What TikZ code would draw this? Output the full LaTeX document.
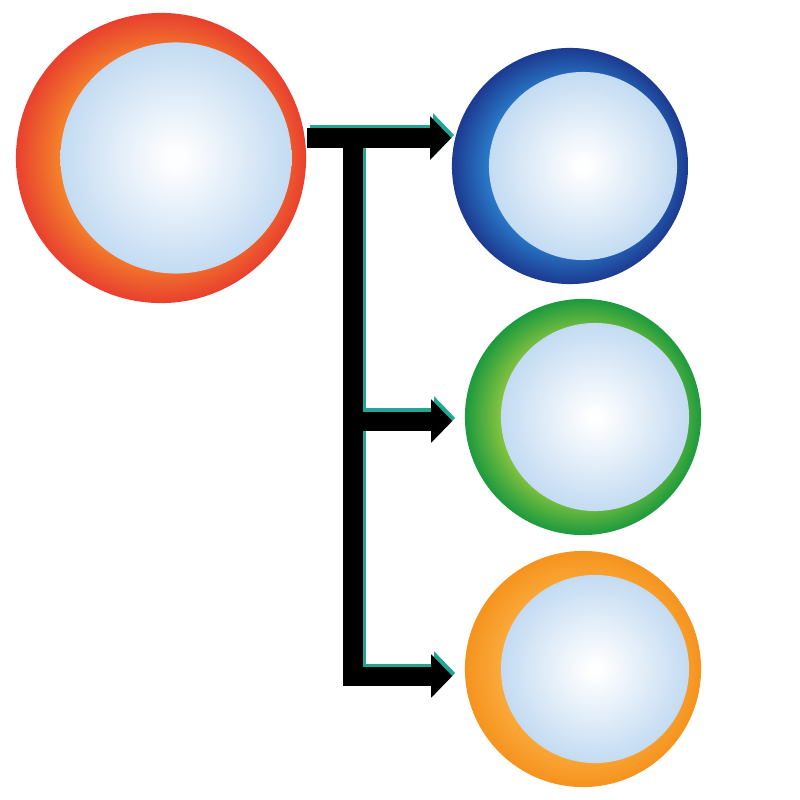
\documentclass[tikz,border=0pt]{standalone}
\usetikzlibrary{arrows.meta}

\definecolor{redout}{HTML}{E8402F}
\definecolor{redin}{HTML}{F5862A}
\definecolor{blueout}{HTML}{1C3A90}
\definecolor{bluein}{HTML}{2A7DCC}
\definecolor{greenout}{HTML}{1C9A3E}
\definecolor{greenin}{HTML}{8CC63F}
\definecolor{orangeout}{HTML}{F5931E}
\definecolor{orangein}{HTML}{FBAB3C}
\definecolor{discedge}{HTML}{C3DBF2}
\definecolor{shadowline}{HTML}{22A593}

% the path's bounding box is mapped to 25bp radius
\pgfdeclareradialshading{redring}{\pgfpoint{0bp}{0bp}}{color(0bp)=(redin);color(17bp)=(redin);color(25bp)=(redout);color(50bp)=(redout)}
\pgfdeclareradialshading{bluering}{\pgfpoint{0bp}{0bp}}{color(0bp)=(bluein);color(17bp)=(bluein);color(25bp)=(blueout);color(50bp)=(blueout)}
\pgfdeclareradialshading{greenring}{\pgfpoint{0bp}{0bp}}{color(0bp)=(greenin);color(17bp)=(greenin);color(25bp)=(greenout);color(50bp)=(greenout)}
\pgfdeclareradialshading{orangering}{\pgfpoint{0bp}{0bp}}{color(0bp)=(orangein);color(17bp)=(orangein);color(25bp)=(orangeout);color(50bp)=(orangeout)}
\pgfdeclareradialshading{glassdisc}{\pgfpoint{0bp}{0bp}}{color(0bp)=(white);color(2bp)=(white!97!discedge);color(25bp)=(discedge);color(50bp)=(discedge)}

\begin{document}
\begin{tikzpicture}[x=0.01cm, y=-0.01cm,
    ring/.style={circle, inner sep=0pt, draw=none, minimum size=2.36cm},
    disc/.style={circle, inner sep=0pt, draw=none, shading=glassdisc, minimum size=1.88cm},
    conn/.style={line width=0.19cm, -{Triangle[length=0.21cm, width=0.42cm]}}]

\useasboundingbox (0,0) rectangle (800,800);

% circles
\node[ring, shading=redring, minimum size=2.9cm] (main) at (161,158) {};
\node[disc, minimum size=2.31cm] (maindisc) at (176,158) {};

\node[ring, shading=bluering] (b1) at (570,166) {};
\node[disc] (b1disc) at (583,166) {};

\node[ring, shading=greenring] (b2) at (583,417) {};
\node[disc] (b2disc) at (595,417) {};

\node[ring, shading=orangering] (b3) at (583,669) {};
\node[disc] (b3disc) at (595,669) {};

% connectors
\coordinate (fork) at (353,138);
\coordinate (mid) at (353,421);
\coordinate (elbow) at (353,676);

\foreach \c/\s in {shadowline/0.03cm, black/0cm}
{
  \begin{scope}[transform canvas={xshift=\s, yshift=\s}]
    \draw[conn, draw=\c] (main.east |- fork) -- (b1.west |- fork);
    \draw[conn, draw=\c, shorten >=0.12cm] (mid) -- (mid -| b2.west);
    \draw[conn, draw=\c, shorten >=0.12cm] (fork) -- (elbow) -- (elbow -| b3.west);
  \end{scope}
}
\end{tikzpicture}
\end{document}
